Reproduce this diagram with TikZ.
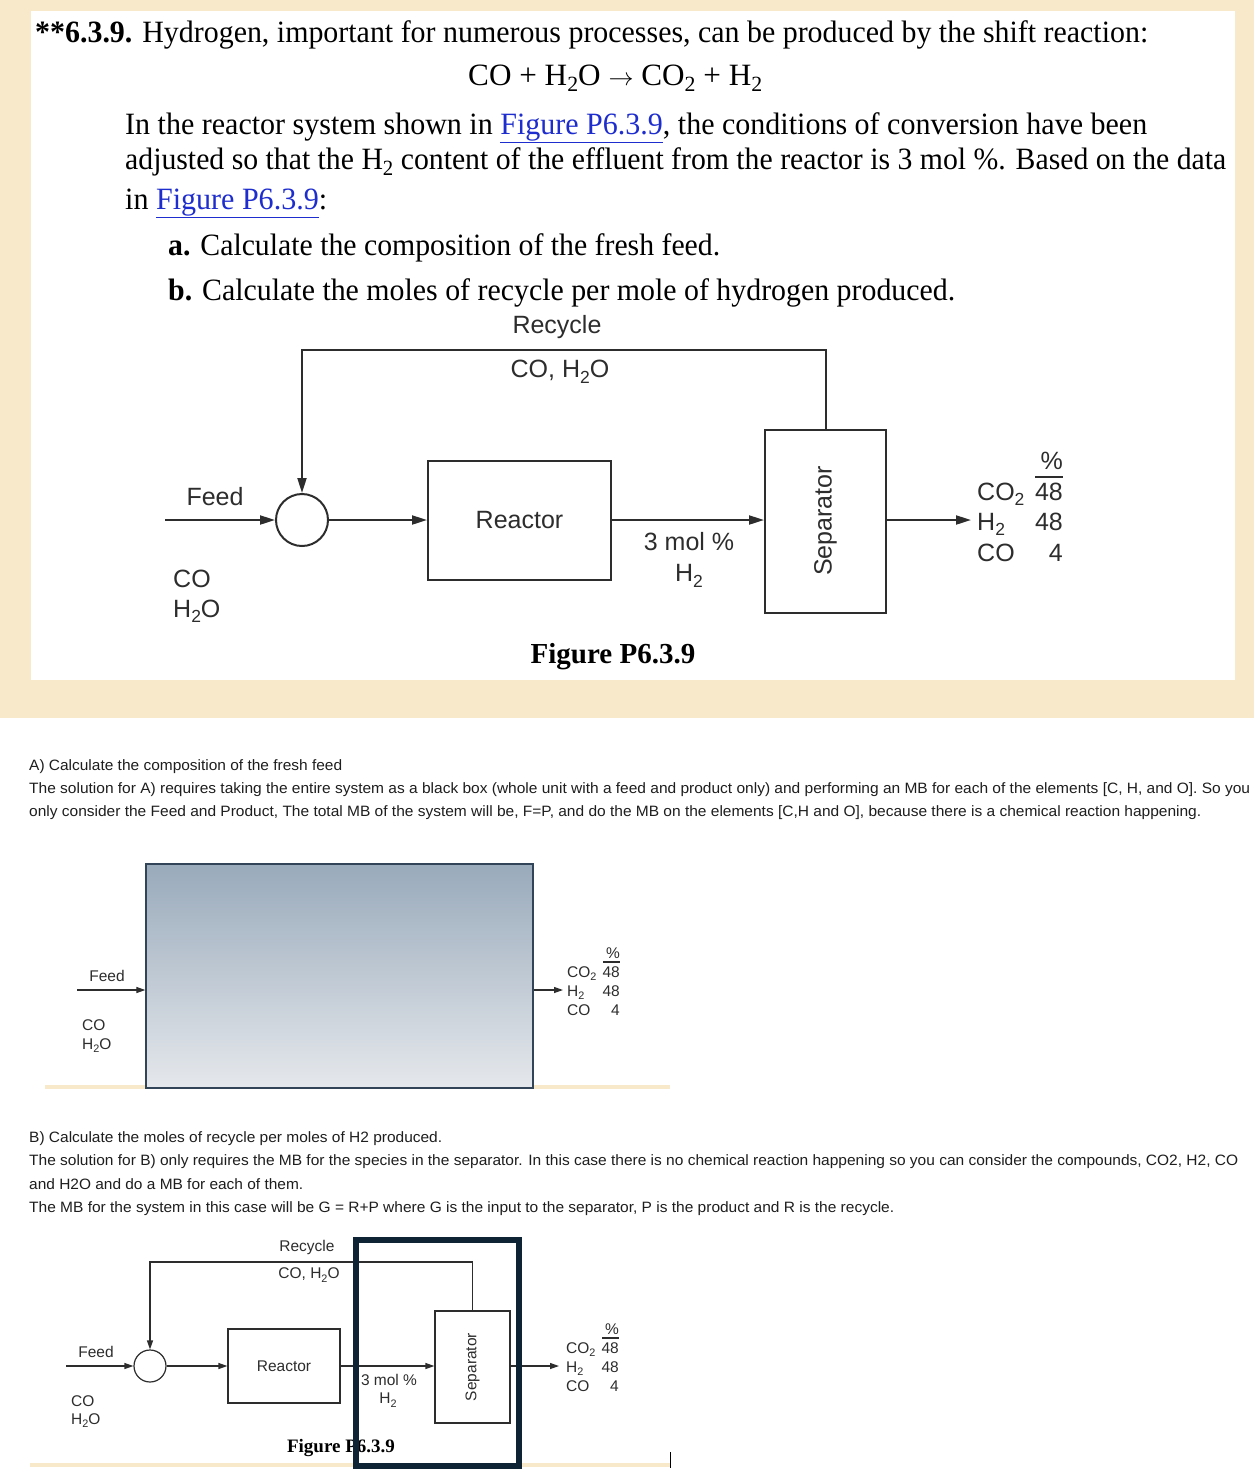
\documentclass[tikz,border=0pt]{standalone}
\usepackage{fontspec}
\setmainfont{Liberation Serif}
\setsansfont{Liberation Sans}
\usetikzlibrary{arrows.meta}
\definecolor{parch}{RGB}{247,233,202}
\definecolor{linkblue}{RGB}{30,45,205}
\definecolor{ink}{RGB}{45,45,45}
\definecolor{bodyink}{RGB}{30,30,30}
\definecolor{framec}{RGB}{14,35,52}
\definecolor{boxtop}{RGB}{153,170,187}
\definecolor{boxbot}{RGB}{229,232,236}
\definecolor{boxedge}{RGB}{50,68,88}
\newcommand\fitw[2]{\resizebox{#1pt}{\height}{#2}}
\newcommand\lnk[1]{\textcolor{linkblue}{\underline{#1}}}
\newcommand\sbs[1]{\raisebox{-0.45ex}{\scalebox{0.7}{#1}}}
\begin{document}
\begin{tikzpicture}[x=1pt,y=-1pt,
  serif/.style={font=\fontsize{31}{36}\selectfont, text=black, inner sep=0pt, anchor=base west},
  body/.style={font=\sffamily\fontsize{15}{18}\selectfont, text=bodyink, inner sep=0pt, anchor=base west},
  labA/.style={font=\sffamily\fontsize{25}{30}\selectfont, text=ink, inner sep=0pt},
  flowA/.style={draw=ink, line width=2pt, -{Triangle[length=15pt,width=9pt]}},
  unitA/.style={draw=ink, line width=2pt, fill=white},
  labB/.style={font=\sffamily\fontsize{15.5}{18}\selectfont, text=ink, inner sep=0pt},
  flowB/.style={draw=ink, line width=1.2pt, -{Triangle[length=9pt,width=6pt]}},
  unitB/.style={draw=ink, line width=1.2pt, fill=white}]
\useasboundingbox (0,0) rectangle (1254,1476);
\fill[white] (0,0) rectangle (1254,1476);
% ---------- parchment and panel ----------
\fill[parch] (0,0) rectangle (1254,718);
\fill[white] (31,11) rectangle (1235,680);
% ---------- problem text ----------
\node[serif] (t1) at (35,42) {\fitw{1113}{\textbf{**6.3.9.} Hydrogen, important for numerous processes, can be produced by the shift reaction:}};
\node[serif] (eq) at (468,85) {\fitw{294}{CO + H\sbs{2}O $\rightarrow$ CO\sbs{2} + H\sbs{2}}};
\node[serif] (t3) at (125,134) {\fitw{1022}{In the reactor system shown in \lnk{Figure P6.3.9}, the conditions of conversion have been}};
\node[serif] (t4) at (125,169) {\fitw{1101}{adjusted so that the H\sbs{2} content of the effluent from the reactor is 3 mol \%. Based on the data}};
\node[serif] (t5) at (125,209) {\fitw{202}{in \lnk{Figure P6.3.9}:}};
\node[serif] (ta) at (168,255) {\fitw{552}{\textbf{a.} Calculate the composition of the fresh feed.}};
\node[serif] (tb) at (168,300) {\fitw{787}{\textbf{b.} Calculate the moles of recycle per mole of hydrogen produced.}};
% ---------- diagram 1 ----------
\node[labA] (recA) at (557,327) {Recycle};
\node[labA] (recsA) at (560,372) {CO, H\sbs{2}O};
\node[circle, draw=ink, line width=2pt, minimum size=52pt, inner sep=0pt] (mixA) at (302,520) {};
\node[unitA, minimum width=183pt, minimum height=119pt, font=\sffamily\fontsize{25}{30}\selectfont, text=ink] (reacA) at (519.5,520) {Reactor};
\node[unitA, minimum width=121pt, minimum height=183pt] (sepA) at (825.5,521) {};
\node[labA, rotate=90] (sepAt) at (sepA.center) {Separator};
\coordinate (feedA) at (165,520);
\coordinate (outA) at (971,520);
\coordinate (topA) at (825.5,350);
\draw[flowA] (feedA) -- (mixA.west);
\draw[flowA] (mixA.east) -- (reacA.west);
\draw[flowA] (reacA.east) -- (reacA.east -| sepA.west);
\draw[flowA] (reacA.east -| sepA.east) -- (outA);
\draw[flowA] (sepA.north) -- (topA) -| (mixA.north);
\node[labA] (feedAl) at (215,497) {Feed};
\node[labA, anchor=base west] (coA) at (173,587) {CO};
\node[labA, anchor=base west] (h2oA) at (173,617) {H\sbs{2}O};
\node[labA] (molA) at (689,542) {3 mol \%};
\node[labA] (h2A) at (689,576) {H\sbs{2}};
\node[labA, anchor=base west] (oco2A) at (977,500) {CO\sbs{2}};
\node[labA, anchor=base west] (oh2A) at (977,530) {H\sbs{2}};
\node[labA, anchor=base west] (ocoA) at (977,561) {CO};
\node[labA, anchor=base east] (opcA) at (1063,469) {\%};
\draw[ink, line width=1.8pt] (1035,477) -- (1063,477);
\node[labA, anchor=base east] (ov1A) at (1063,500) {48};
\node[labA, anchor=base east] (ov2A) at (1063,530) {48};
\node[labA, anchor=base east] (ov3A) at (1063,561) {4};
\node[font=\bfseries\fontsize{29}{34}\selectfont, inner sep=0pt] (figA) at (613,657) {Figure P6.3.9};
% ---------- solution text A ----------
\node[body] (a1) at (29,770) {\fitw{313}{A) Calculate the composition of the fresh feed}};
\node[body] (a2) at (29,793) {\fitw{1221}{The solution for A) requires taking the entire system as a black box (whole unit with a feed and product only) and performing an MB for each of the elements [C, H, and O]. So you}};
\node[body] (a3) at (29,816) {\fitw{1172}{only consider the Feed and Product, The total MB of the system will be, F=P, and do the MB on the elements [C,H and O], because there is a chemical reaction happening.}};
% ---------- diagram 2 ----------
\fill[parch] (45,1085) rectangle (670,1089);
\node[draw=boxedge, line width=1.3pt, top color=boxtop, bottom color=boxbot, minimum width=387pt, minimum height=224pt, inner sep=0pt] (boxB) at (339.5,976) {};
\coordinate (feedB) at (77,990);
\coordinate (outB) at (563,990);
\draw[flowB] (feedB) -- (feedB -| boxB.west);
\draw[flowB] (feedB -| boxB.east) -- (outB);
\node[labB] (feedBl) at (107,976) {Feed};
\node[labB, anchor=base west] (coB) at (82,1030) {CO};
\node[labB, anchor=base west] (h2oB) at (82,1049) {H\sbs{2}O};
\node[labB, anchor=base west] (oco2B) at (567,977) {CO\sbs{2}};
\node[labB, anchor=base west] (oh2B) at (567,996) {H\sbs{2}};
\node[labB, anchor=base west] (ocoB) at (567,1015) {CO};
\node[labB, anchor=base east] (opcB) at (620,958) {\%};
\draw[ink, line width=1.1pt] (603,962) -- (620,962);
\node[labB, anchor=base east] (ov1B) at (620,977) {48};
\node[labB, anchor=base east] (ov2B) at (620,996) {48};
\node[labB, anchor=base east] (ov3B) at (620,1015) {4};
% ---------- solution text B ----------
\node[body] (b1) at (29,1142) {\fitw{413}{B) Calculate the moles of recycle per moles of H2 produced.}};
\node[body] (b2) at (29,1165) {\fitw{1209}{The solution for B) only requires the MB for the species in the separator. In this case there is no chemical reaction happening so you can consider the compounds, CO2, H2, CO}};
\node[body] (b3) at (29,1189) {\fitw{274}{and H2O and do a MB for each of them.}};
\node[body] (b4) at (29,1212) {\fitw{865}{The MB for the system in this case will be G = R+P where G is the input to the separator, P is the product and R is the recycle.}};
% ---------- diagram 3 ----------
\fill[parch] (30,1463) rectangle (670,1467);
\node[labB] (recC) at (307,1247) {Recycle};
\node[labB] (recsC) at (309,1275) {CO, H\sbs{2}O};
\node[circle, draw=ink, line width=1.2pt, minimum size=32pt, inner sep=0pt] (mixC) at (150,1366) {};
\node[unitB, minimum width=112pt, minimum height=74pt, font=\sffamily\fontsize{15.5}{18}\selectfont, text=ink] (reacC) at (284,1366) {Reactor};
\node[unitB, minimum width=75pt, minimum height=112pt] (sepC) at (472.5,1367) {};
\node[labB, rotate=90] (sepCt) at (sepC.center) {Separator};
\coordinate (feedC) at (66,1366);
\coordinate (outC) at (559,1366);
\coordinate (topC) at (472.5,1262);
\draw[flowB] (feedC) -- (mixC.west);
\draw[flowB] (mixC.east) -- (reacC.west);
\draw[flowB] (reacC.east) -- (reacC.east -| sepC.west);
\draw[flowB] (reacC.east -| sepC.east) -- (outC);
\draw[flowB] (sepC.north) -- (topC) -| (mixC.north);
\node[labB] (feedCl) at (96,1352) {Feed};
\node[labB, anchor=base west] (coC) at (71,1406) {CO};
\node[labB, anchor=base west] (h2oC) at (71,1424) {H\sbs{2}O};
\node[labB] (molC) at (389,1380) {3 mol \%};
\node[labB] (h2C) at (388,1400) {H\sbs{2}};
\node[labB, anchor=base west] (oco2C) at (566,1353) {CO\sbs{2}};
\node[labB, anchor=base west] (oh2C) at (566,1372) {H\sbs{2}};
\node[labB, anchor=base west] (ocoC) at (566,1391) {CO};
\node[labB, anchor=base east] (opcC) at (619,1334) {\%};
\draw[ink, line width=1.1pt] (602,1338) -- (619,1338);
\node[labB, anchor=base east] (ov1C) at (619,1353) {48};
\node[labB, anchor=base east] (ov2C) at (619,1372) {48};
\node[labB, anchor=base east] (ov3C) at (619,1391) {4};
\node[font=\bfseries\fontsize{19}{22}\selectfont, inner sep=0pt] (figC) at (341,1448) {Figure P6.3.9};
\draw[framec, line width=6pt] (356,1240) rectangle (519,1466);
\draw[black, line width=1pt] (670,1452) -- (670,1468);
\end{tikzpicture}
\end{document}
